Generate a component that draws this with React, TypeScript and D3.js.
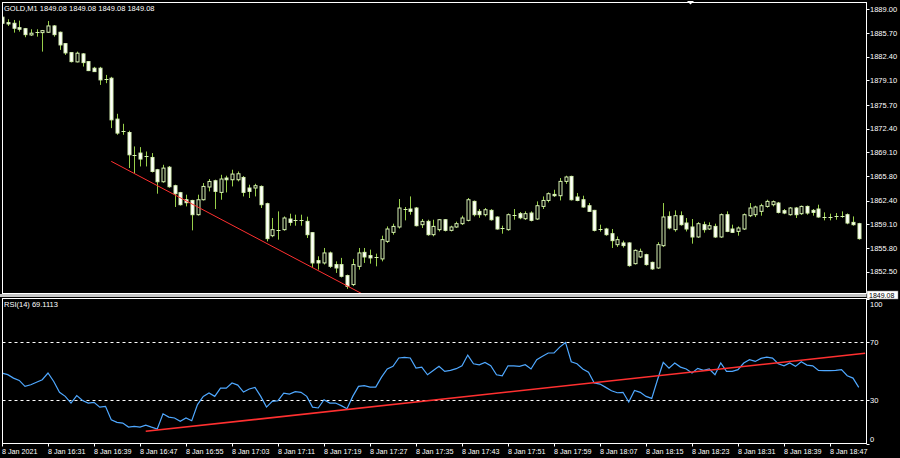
import React, { useEffect } from 'react';
import * as d3 from 'd3';

// GOLD M1, 8 Jan 2021 16:23 .. 18:52 (one bar per minute)
const opens = [
  1887.9, 1887.14, 1887.05, 1886.44, 1886.3, 1885.43, 1885.82, 1885.75, 1885.8, 1886.68,
  1885.8, 1884.22, 1882.97, 1881.68, 1882.79, 1881.72, 1880.8, 1880.8, 1879.33, 1879.41,
  1873.72, 1872.02, 1871.86, 1868.7, 1869.0, 1868.55, 1868.39, 1866.68, 1865.01, 1867.03,
  1864.46, 1863.49, 1862.51, 1862.41, 1860.43, 1862.51, 1864.28, 1865.15, 1863.53, 1865.53,
  1865.29, 1865.29, 1865.61, 1864.14, 1864.14, 1864.36, 1861.96, 1857.51, 1858.35, 1858.35,
  1859.83, 1859.53, 1859.64, 1859.5, 1857.93, 1854.04, 1853.72, 1855.11, 1853.49, 1853.49,
  1851.96, 1850.71, 1853.25, 1855.19, 1854.74, 1854.56, 1854.28, 1856.72, 1857.97, 1858.72,
  1861.22, 1861.22, 1861.36, 1859.04, 1859.5, 1857.65, 1858.35, 1859.73, 1858.25, 1858.72,
  1859.18, 1859.64, 1862.28, 1860.89, 1860.43, 1861.03, 1860.1, 1858.58, 1858.35, 1860.29,
  1860.57, 1859.87, 1860.66, 1859.83, 1861.58, 1862.41, 1863.25, 1863.07, 1865.06, 1865.75,
  1862.89, 1862.51, 1861.68, 1861.03, 1858.44, 1858.44, 1857.79, 1856.26, 1856.5, 1856.5,
  1853.62, 1854.55, 1854.87, 1853.8, 1853.02, 1856.12, 1860.19, 1858.35, 1860.29, 1859.27,
  1858.72, 1857.33, 1859.04, 1858.44, 1858.8, 1857.33, 1860.43, 1858.44, 1858.11, 1858.44,
  1860.29, 1860.43, 1860.89, 1861.58, 1861.82, 1862.05, 1860.99, 1860.43, 1861.36, 1860.57,
  1861.58, 1861.03, 1861.22, 1860.11, 1860.11, 1860.19, 1860.29, 1860.43, 1859.36, 1859.18,
];

const highs = [
  1888.07, 1887.61, 1887.51, 1887.42, 1886.4, 1886.22, 1886.22, 1886.12, 1887.37, 1886.8,
  1885.9, 1884.3, 1883.0, 1883.11, 1882.9, 1881.8, 1880.99, 1880.99, 1879.87, 1879.6,
  1874.46, 1873.07, 1872.1, 1869.92, 1869.83, 1869.22, 1869.0, 1866.8, 1867.37, 1867.2,
  1864.6, 1863.6, 1863.21, 1862.5, 1863.21, 1864.83, 1865.39, 1865.3, 1865.98, 1865.85,
  1866.68, 1866.44, 1865.8, 1864.6, 1864.73, 1864.5, 1862.1, 1859.97, 1860.89, 1860.19,
  1860.57, 1860.43, 1860.43, 1860.15, 1858.0, 1854.64, 1855.8, 1855.3, 1853.94, 1854.42,
  1852.1, 1854.28, 1855.8, 1855.8, 1855.57, 1855.01, 1857.51, 1858.8, 1859.18, 1862.61,
  1861.5, 1862.97, 1861.5, 1859.83, 1859.73, 1859.73, 1859.83, 1859.83, 1858.9, 1859.46,
  1860.29, 1862.75, 1862.4, 1861.22, 1861.36, 1861.2, 1860.2, 1858.9, 1860.6, 1861.22,
  1860.8, 1860.89, 1860.89, 1862.28, 1862.97, 1863.53, 1863.9, 1865.53, 1865.85, 1865.85,
  1863.44, 1863.07, 1862.05, 1861.1, 1859.04, 1858.6, 1858.44, 1857.4, 1856.82, 1856.6,
  1855.6, 1855.71, 1855.0, 1853.9, 1856.6, 1862.05, 1860.89, 1861.03, 1860.89, 1859.97,
  1859.83, 1859.4, 1859.46, 1859.36, 1859.18, 1860.6, 1860.89, 1859.04, 1858.8, 1860.6,
  1862.05, 1861.68, 1861.96, 1862.51, 1862.41, 1862.2, 1861.22, 1861.5, 1861.5, 1861.7,
  1861.7, 1861.22, 1861.82, 1860.75, 1860.57, 1860.66, 1860.89, 1860.6, 1860.19, 1859.3,
];

const lows = [
  1886.96, 1886.68, 1885.75, 1885.89, 1885.11, 1885.29, 1885.19, 1883.11, 1885.7, 1885.19,
  1883.35, 1882.65, 1881.6, 1881.6, 1881.03, 1880.4, 1880.29, 1878.48, 1878.72, 1872.47,
  1871.54, 1871.54, 1866.92, 1866.22, 1867.14, 1867.14, 1866.3, 1863.35, 1864.87, 1864.18,
  1861.5, 1861.7, 1861.58, 1858.25, 1860.3, 1862.4, 1863.67, 1861.22, 1862.51, 1863.53,
  1864.36, 1865.06, 1862.97, 1862.75, 1862.97, 1861.36, 1856.72, 1857.3, 1856.96, 1858.2,
  1858.9, 1858.9, 1858.9, 1857.19, 1853.07, 1852.79, 1853.5, 1853.03, 1852.33, 1851.7,
  1850.11, 1850.5, 1852.79, 1853.72, 1853.62, 1853.25, 1853.94, 1856.5, 1857.65, 1858.5,
  1859.64, 1860.43, 1858.8, 1858.58, 1857.5, 1857.42, 1858.1, 1858.1, 1858.1, 1858.6,
  1859.0, 1859.5, 1860.19, 1860.0, 1860.19, 1859.6, 1858.35, 1857.79, 1858.2, 1859.73,
  1859.8, 1859.7, 1859.5, 1859.7, 1861.22, 1862.14, 1862.9, 1862.41, 1864.73, 1862.4,
  1862.3, 1861.4, 1860.8, 1858.1, 1858.07, 1857.5, 1855.8, 1855.95, 1855.85, 1853.2,
  1853.5, 1854.4, 1853.35, 1852.75, 1852.9, 1855.95, 1858.4, 1858.07, 1858.9, 1858.1,
  1856.4, 1857.2, 1857.93, 1858.3, 1857.2, 1857.2, 1858.0, 1857.88, 1857.51, 1858.3,
  1860.1, 1860.1, 1860.29, 1861.4, 1861.58, 1860.6, 1860.5, 1860.3, 1859.97, 1860.4,
  1860.43, 1860.29, 1860.0, 1859.64, 1859.64, 1859.73, 1860.0, 1859.1, 1858.9, 1856.96,
];

const closes = [
  1887.05, 1886.96, 1886.36, 1886.22, 1885.47, 1885.67, 1885.78, 1886.03, 1886.68, 1885.47,
  1884.04, 1882.93, 1881.72, 1882.89, 1881.58, 1880.47, 1880.33, 1879.18, 1879.3, 1873.62,
  1871.78, 1871.99, 1868.76, 1868.66, 1868.17, 1868.52, 1866.44, 1865.01, 1866.91, 1864.32,
  1863.35, 1861.82, 1862.1, 1860.43, 1862.51, 1864.36, 1865.05, 1863.67, 1865.39, 1865.29,
  1866.08, 1866.12, 1863.53, 1863.67, 1864.46, 1861.82, 1857.1, 1858.35, 1858.35, 1859.97,
  1859.36, 1859.64, 1859.62, 1857.65, 1853.72, 1853.72, 1855.11, 1853.25, 1853.02, 1851.86,
  1850.47, 1853.49, 1855.11, 1854.55, 1854.42, 1854.55, 1856.96, 1858.44, 1858.8, 1861.36,
  1861.22, 1860.89, 1858.9, 1859.5, 1857.65, 1858.8, 1859.73, 1858.25, 1858.72, 1859.18,
  1859.97, 1862.51, 1860.43, 1860.43, 1861.12, 1859.73, 1858.44, 1858.58, 1860.43, 1860.43,
  1860.0, 1860.57, 1859.64, 1861.68, 1862.41, 1863.35, 1863.07, 1865.06, 1865.67, 1862.51,
  1862.41, 1861.5, 1860.89, 1858.25, 1858.4, 1857.65, 1856.82, 1856.96, 1856.13, 1853.35,
  1855.47, 1855.33, 1853.49, 1852.89, 1856.26, 1860.11, 1858.58, 1860.29, 1859.04, 1858.44,
  1857.33, 1859.18, 1858.35, 1858.9, 1857.33, 1860.43, 1858.11, 1857.97, 1858.58, 1860.43,
  1861.36, 1861.5, 1861.68, 1862.28, 1862.24, 1860.75, 1860.66, 1861.36, 1860.43, 1861.58,
  1860.66, 1860.75, 1860.11, 1860.08, 1860.14, 1860.2, 1860.3, 1859.27, 1859.04, 1857.1,
];

const rsi = [
  48.6, 47.5, 45.1, 43.5, 39.4, 40.5, 42.2, 44.0, 48.6, 42.8,
  35.3, 32.5, 27.9, 33.0, 29.7, 27.9, 28.4, 25.1, 25.6, 16.4,
  14.6, 14.1, 11.3, 11.8, 11.3, 12.7, 11.3, 10.0, 20.5, 18.2,
  17.6, 15.3, 17.6, 15.7, 26.8, 32.5, 34.8, 32.5, 38.2, 38.2,
  41.7, 40.3, 35.5, 37.6, 38.7, 32.5, 25.1, 29.1, 29.5, 34.8,
  34.1, 35.7, 35.3, 32.5, 25.1, 24.5, 30.2, 27.9, 27.9, 26.1,
  24.0, 32.5, 39.4, 39.9, 38.9, 38.9, 45.8, 51.4, 53.2, 59.0,
  59.4, 59.0, 52.0, 52.7, 47.4, 50.4, 53.2, 49.7, 50.4, 51.6,
  53.6, 61.0, 55.0, 54.3, 55.9, 53.6, 47.4, 46.7, 53.6, 53.6,
  53.2, 54.3, 51.4, 57.8, 60.1, 62.4, 62.4, 66.5, 69.7, 56.4,
  55.0, 51.4, 49.1, 41.7, 41.0, 38.7, 36.4, 35.0, 35.3, 28.6,
  36.6, 35.3, 32.5, 31.1, 44.0, 55.9, 52.0, 55.5, 52.7, 51.4,
  48.6, 51.8, 50.4, 51.4, 47.4, 55.5, 49.7, 49.7, 50.9, 55.5,
  57.8, 56.6, 58.7, 59.6, 58.9, 55.0, 53.6, 55.5, 53.2, 56.4,
  54.1, 53.6, 50.4, 50.2, 50.2, 50.4, 50.9, 46.7, 45.1, 38.7,
];

const timeLabels = [
  '8 Jan 2021', '8 Jan 16:31', '8 Jan 16:39', '8 Jan 16:47', '8 Jan 16:55', '8 Jan 17:03',
  '8 Jan 17:11', '8 Jan 17:19', '8 Jan 17:27', '8 Jan 17:35', '8 Jan 17:43', '8 Jan 17:51',
  '8 Jan 17:59', '8 Jan 18:07', '8 Jan 18:15', '8 Jan 18:23', '8 Jan 18:31', '8 Jan 18:39',
  '8 Jan 18:47',
];
const labelEvery = 8;

const priceTicks = [1889.0, 1885.7, 1882.4, 1879.1, 1875.7, 1872.4, 1869.1, 1865.8, 1862.4, 1859.1, 1855.8, 1852.5];
const rsiTicks = [100, 70, 30, 0];
const rsiLevels = [70, 30];

// trend lines drawn by hand on the chart: [bar index, value]
const priceTrend: [number, number][] = [[19, 1867.85], [63, 1849.27]];
const rsiTrend: [number, number][] = [[25, 8.4], [150.1, 62.2]];

const lastPrice = 1849.08;
const header = 'GOLD,M1  1849.08 1849.08 1849.08 1849.08';
const rsiHeader = 'RSI(14) 69.1113';

const W = 900;
const H = 458;
const FONT = '"Liberation Sans", Arial, sans-serif';

const WICK = '#98cf4a';
const BODY_EDGE = '#d8f2b4';

export default function App() {
  useEffect(() => {
    document.body.style.margin = '0';
    document.body.style.background = '#000';
  }, []);

  const panelL = 2.5;
  const panelR = 866.5;
  const mainTop = 2.5;
  const mainBottom = 293.5;
  const rsiTop = 298.5;
  const rsiBottom = 443.5;

  const x = d3.scaleLinear().domain([0, 149]).range([2, 858.75]);
  const yPrice = d3.scaleLinear().domain([1849.4, 1889.94]).range([294, 2.5]);
  const yRsi = d3.scaleLinear().domain([0, 100]).range([rsiBottom, rsiTop]);

  const rsiLine = d3.line<number>().x((_, i) => x(i)).y(v => yRsi(v));
  const trendPrice = d3.line<[number, number]>().x(d => x(d[0])).y(d => yPrice(d[1]));
  const trendRsi = d3.line<[number, number]>().x(d => x(d[0])).y(d => yRsi(d[1]));

  return (
    <svg width={W} height={H} style={{ position: 'absolute', left: 0, top: 0, display: 'block' }} fontFamily={FONT}>
      <defs>
        <clipPath id="clipMain">
          <rect x={panelL} y={mainTop} width={panelR - panelL} height={mainBottom - mainTop} />
        </clipPath>
        <clipPath id="clipRsi">
          <rect x={panelL} y={rsiTop} width={panelR - panelL} height={rsiBottom - rsiTop} />
        </clipPath>
      </defs>
      <rect x={0} y={0} width={W} height={H} fill="#000" />

      {/* candles */}
      <g clipPath="url(#clipMain)">
        {opens.map((o, i) => {
          const c = closes[i];
          const cx = Math.round(x(i));
          const yo = yPrice(o);
          const yc = yPrice(c);
          const top = Math.min(yo, yc);
          const h = Math.abs(yo - yc);
          const bear = c < o;
          return (
            <g key={i}>
              <line x1={cx + 0.5} x2={cx + 0.5} y1={yPrice(highs[i])} y2={yPrice(lows[i])} stroke={WICK} strokeWidth={1} />
              {h < 1.2 ? (
                <line x1={cx - 1.5} x2={cx + 2.5} y1={Math.round(top) + 0.5} y2={Math.round(top) + 0.5} stroke={BODY_EDGE} strokeWidth={1} />
              ) : (
                <rect x={cx - 1} y={top} width={3} height={h} fill={bear ? '#ffffff' : '#000000'} stroke={BODY_EDGE} strokeWidth={1} />
              )}
            </g>
          );
        })}
        <path d={trendPrice(priceTrend) || ''} stroke="#ff3030" strokeWidth={1} fill="none" />
      </g>

      {/* main panel frame */}
      <rect x={panelL} y={mainTop} width={panelR - panelL} height={mainBottom - mainTop} fill="none" stroke="#fff" strokeWidth={1} />
      <polygon points="687,1 694,1 690.5,4.5" fill="#fff" />
      <text x={4} y={11} fill="#fff" fontSize={7.5}>{header}</text>

      {/* price axis */}
      {priceTicks.map(v => (
        <g key={v}>
          <line x1={panelR} x2={panelR + 3} y1={Math.round(yPrice(v)) + 0.5} y2={Math.round(yPrice(v)) + 0.5} stroke="#fff" />
          <text x={870} y={yPrice(v)} dy="0.35em" fill="#fff" fontSize={7.5}>{v.toFixed(2)}</text>
        </g>
      ))}

      {/* separator */}
      <rect x={0} y={294} width={panelR} height={3} fill="#c4c4c4" />
      <rect x={867} y={291} width={31} height={8} fill="#fff" stroke="#888" strokeWidth={0.5} />
      <text x={869} y={297.6} fill="#000" fontSize={7}>{lastPrice.toFixed(2)}</text>

      {/* RSI panel */}
      <g clipPath="url(#clipRsi)">
        {rsiLevels.map(v => (
          <line key={v} x1={panelL} x2={panelR} y1={Math.round(yRsi(v)) + 0.5} y2={Math.round(yRsi(v)) + 0.5}
            stroke="#fff" strokeWidth={1} strokeDasharray="3,3" />
        ))}
        <path d={rsiLine(rsi) || ''} stroke="#4fa8ff" strokeWidth={1.2} fill="none" />
        <path d={trendRsi(rsiTrend) || ''} stroke="#ff3030" strokeWidth={1.6} fill="none" />
      </g>
      <rect x={panelL} y={rsiTop} width={panelR - panelL} height={rsiBottom - rsiTop} fill="none" stroke="#fff" strokeWidth={1} />
      <text x={4} y={307} fill="#fff" fontSize={7.5}>{rsiHeader}</text>
      {rsiTicks.map(v => {
        const yy = Math.min(Math.max(yRsi(v), 304.5), 439.5);
        return (
          <g key={v}>
            <line x1={panelR} x2={panelR + 3} y1={Math.round(yRsi(v)) + 0.5} y2={Math.round(yRsi(v)) + 0.5} stroke="#fff" />
            <text x={870} y={yy} dy="0.35em" fill="#fff" fontSize={7.5}>{v}</text>
          </g>
        );
      })}

      {/* time axis */}
      {timeLabels.map((t, k) => {
        const xx = Math.round(x(k * labelEvery));
        return (
          <g key={t}>
            <line x1={xx + 0.5} x2={xx + 0.5} y1={rsiBottom} y2={rsiBottom + 3} stroke="#fff" />
            <text x={xx} y={454} fill="#fff" fontSize={7.2}>{t}</text>
          </g>
        );
      })}
    </svg>
  );
}
